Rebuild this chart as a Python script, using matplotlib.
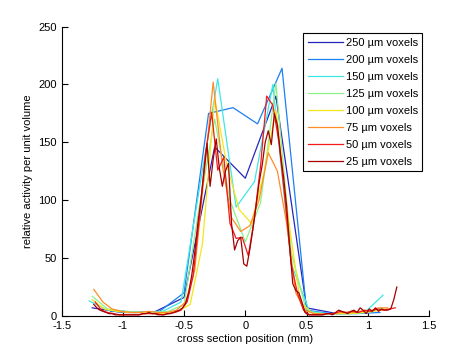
import numpy as np
import matplotlib
matplotlib.use("Agg")
import matplotlib.pyplot as plt

plt.rcParams['font.family'] = ['Liberation Sans', 'DejaVu Sans']

labels = ["250 \u00b5m voxels", "200 \u00b5m voxels", "150 \u00b5m voxels", "125 \u00b5m voxels",
          "100 \u00b5m voxels", "75 \u00b5m voxels", "50 \u00b5m voxels", "25 \u00b5m voxels"]
colors = [(0.15, 0.15, 0.75), (0.1, 0.5, 0.95), (0.25, 0.9, 0.9), (0.55, 0.95, 0.55),
          (0.95, 0.9, 0.1), (1.0, 0.55, 0.15), (0.95, 0.1, 0.1), (0.65, 0.0, 0.0)]

# voxel size (mm) and first sample position (mm)
step = [0.25, 0.2, 0.15, 0.125, 0.1, 0.075, 0.05, 0.025]
start = [-1.25, -1.1, -1.275, -1.25, -1.25, -1.2375, -1.225, -1.2375]

v250 = [7, 3, 3, 16, 146, 119, 190, 7, 2, 3]
v200 = [4, 3, 4, 20, 175, 180, 166, 214, 5, 2, 2, 3]
v150 = [13, 5, 4, 3, 4, 12, 110, 205, 94, 116, 200, 45, 4, 2, 2, 3, 18]
v125 = [17, 6, 4, 3, 3, 4, 10, 95, 170, 100, 64, 98, 201, 55, 4, 2, 2, 2, 3, 7]
v100 = [14, 6, 4, 3, 3, 2, 2, 4, 10, 62, 188, 130, 92, 80, 122, 178, 85, 12, 2, 2, 2, 2, 3, 4, 6]
v75 = [23, 12, 6, 4, 3, 3, 4, 3, 3, 5, 12, 40, 120, 202, 130, 85, 73, 78, 100, 141, 125, 80,
       20, 5, 2, 2, 2, 3, 3, 4, 4, 7, 7]
v50 = [12, 5, 3, 2, 1, 1, 1, 1, 2, 2, 2, 1, 2, 3, 5, 12, 35, 85, 140, 176, 126, 137, 80, 67,
       68, 52, 85, 130, 190, 182, 150, 100, 45, 20, 5, 1, 1, 1, 2, 2, 4, 3, 4, 3, 5, 4, 6, 5, 6, 7]
v25 = [10, 7, 5, 4, 3, 2, 2, 1, 1, 1, 1, 1, 1, 1, 1, 1, 2, 2, 3, 2, 2, 1, 1, 1, 2, 2, 3, 4, 5, 7,
       11, 20, 35, 55, 80, 100, 125, 149, 112, 135, 153, 128, 112, 125, 132, 80, 57, 65, 68, 45,
       43, 58, 75, 95, 115, 130, 150, 160, 148, 175, 165, 140, 120, 95, 60, 28, 22, 20, 12, 3,
       1, 1, 1, 1, 1, 1, 2, 2, 1, 3, 5, 4, 3, 2, 4, 5, 3, 7, 5, 2, 6, 4, 7, 4, 6, 5, 5, 6, 14, 25]
series = [v250, v200, v150, v125, v100, v75, v50, v25]

xticks = [-1.5, -1, -0.5, 0, 0.5, 1, 1.5]
xticklabels = ["-1.5", "-1", "-0.5", "0", "0.5", "1", "1.5"]
yticks = [0, 50, 100, 150, 200, 250]

fig = plt.figure(figsize=(4.74, 3.55), dpi=100)
ax = fig.add_axes([0.13, 0.11, 0.775, 0.815])

for vals, st, s0, c, lab in zip(series, step, start, colors, labels):
    x = s0 + st * np.arange(len(vals))
    ax.plot(x, vals, color=c, lw=0.9, label=lab)

ax.set_xlim(-1.5, 1.5)
ax.set_ylim(0, 250)
ax.set_xticks(xticks)
ax.set_xticklabels(xticklabels)
ax.set_yticks(yticks)
ax.tick_params(direction='in', length=4, width=0.8, labelsize=8, colors='black')
for side in ['top', 'right']:
    ax.spines[side].set_visible(False)
for side in ['left', 'bottom']:
    ax.spines[side].set_linewidth(0.8)

ax.set_xlabel("cross section position (mm)", fontsize=8, labelpad=2)
ax.set_ylabel("relative activity per unit volume", fontsize=8, labelpad=4)

leg = ax.legend(loc='upper right', fontsize=8, frameon=True, fancybox=False,
                edgecolor='black', framealpha=1, handlelength=3.2, handletextpad=0.2,
                labelspacing=0.63, borderaxespad=0.6, borderpad=0.4)
leg.get_frame().set_linewidth(0.8)

fig.savefig("out.png", dpi=100)
